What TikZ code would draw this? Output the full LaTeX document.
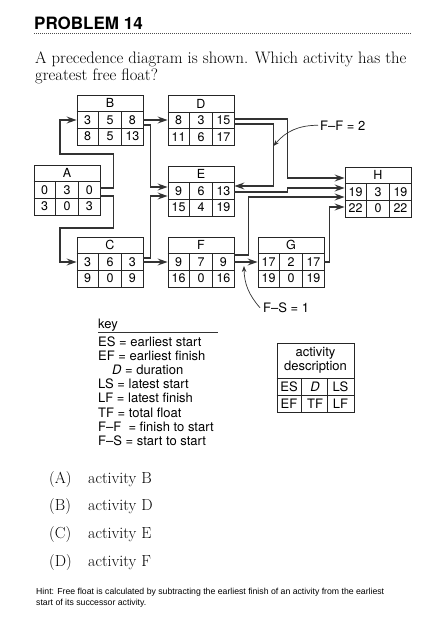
\documentclass[tikz,border=0pt]{standalone}
\usepackage{fontspec}
\setsansfont{TeX Gyre Heros}
\newfontfamily\hintfont{Liberation Sans}
\usetikzlibrary{arrows.meta,positioning,calc}

% activity box: name (also its title), centre, ES, D, LS, EF, TF, LF
\newcommand{\activity}[8]{%
  \node[actbox] (#1) at (#2) {};
  \draw[actline] ([yshift=-17pt]#1.north west) -- ([yshift=-17pt]#1.north east);
  \draw[actline] ([yshift=-33.5pt]#1.north west) -- ([yshift=-33.5pt]#1.north east);
  \draw[actline] ([yshift=-17pt,xshift=22pt]#1.north west) -- ([xshift=22pt]#1.south west);
  \draw[actline] ([yshift=-17pt,xshift=-22pt]#1.north east) -- ([xshift=-22pt]#1.south east);
  \node[cell] (#1-t)  at ([yshift=-8.5pt]#1.north) {#1};
  \node[cell] (#1-es) at ([yshift=-25.25pt,xshift=11pt]#1.north west) {#3};
  \node[cell] (#1-d)  at ([yshift=-25.25pt]#1.north) {#4};
  \node[cell] (#1-ls) at ([yshift=-25.25pt,xshift=-11pt]#1.north east) {#5};
  \node[cell] (#1-ef) at ([yshift=-41.75pt,xshift=11pt]#1.north west) {#6};
  \node[cell] (#1-tf) at ([yshift=-41.75pt]#1.north) {#7};
  \node[cell] (#1-lf) at ([yshift=-41.75pt,xshift=-11pt]#1.north east) {#8};
}

\begin{document}
\begin{tikzpicture}[x=1pt,y=-1pt,
  >={Stealth[length=10pt,width=7pt,inset=3.5pt]},
  actbox/.style={rectangle,draw=black!85,line width=0.9pt,minimum width=66pt,
                 minimum height=50pt,inner sep=0pt},
  actline/.style={draw=black!85,line width=0.9pt},
  cell/.style={inner sep=0pt,font=\sffamily\fontsize{12.5}{12.5}\selectfont},
  link/.style={->,line width=1.1pt,draw=black!80},
  note/.style={-{Stealth[length=6pt,width=4.5pt]},line width=0.7pt,draw=black!80},
  keytext/.style={inner sep=0pt,font=\sffamily\fontsize{13}{14}\selectfont},
  choice/.style={inner sep=0pt,font=\fontsize{16}{16}\selectfont},
  hint/.style={inner sep=0pt,font=\hintfont\fontsize{8.7}{8.7}\selectfont},
]
  \useasboundingbox (0,0) rectangle (447,632);

  % heading and question
  \node[anchor=base west,inner sep=0pt,font=\sffamily\bfseries\fontsize{17}{17}\selectfont]
    (title) at (34,29.3) {PROBLEM 14};
  \draw[black!70,line width=0.7pt,dash pattern=on 0.7pt off 1.3pt]
    ([yshift=-4.3pt]title.base west) -- ++(377,0);
  \node[choice,anchor=base west,font=\fontsize{16.6}{16.6}\selectfont] (q1) at (35,63.5)
    {A precedence diagram is shown. Which activity has the};
  \node[choice,anchor=base west,font=\fontsize{16.6}{16.6}\selectfont] (q2) at (35,80.5)
    {greatest free float?};

  % activities
  \activity{A}{67,190}{0}{3}{0}{3}{0}{3}
  \activity{B}{110,120}{3}{5}{8}{8}{5}{13}
  \activity{C}{110,262}{3}{6}{3}{9}{0}{9}
  \activity{D}{201,120.5}{8}{3}{15}{11}{6}{17}
  \activity{E}{201,191}{9}{6}{13}{15}{4}{19}
  \activity{F}{201,262}{9}{7}{9}{16}{0}{16}
  \activity{G}{291,262}{17}{2}{17}{19}{0}{19}
  \activity{H}{378,192}{19}{3}{19}{22}{0}{22}

  % links
  \draw[link] ([yshift=2pt]A.east) -- ++(13,0) |- (60,154) |- (B.west);
  \draw[link] ([yshift=-6pt]A.east) -- ++(13,0) |- (60,228) |- (C.west);
  \draw[link] (B.east) -- (B.east -| D.west);
  \draw[link] ([yshift=-5pt]B.east) -- ++(7,0) |- ([yshift=4pt]E.west);
  \draw[link] ([yshift=4pt]C.east) -- ++(7,0) |- ([yshift=-5pt]E.west);
  \draw[link] (C.east) -- (F.west);
  \draw[link] ([yshift=1.5pt]D.east) -- ++(53,0) |- ([yshift=14pt]H.west);
  \draw[link] ([yshift=-3.5pt]D.east) -- ++(39,0) |- ([yshift=5pt]E.east);
  \draw[link] ([yshift=-1pt]E.east) -- ++(53,0) |- ([yshift=4pt]H.west);
  \draw[link] (F.east) -- (G.west);
  \draw[link] ([yshift=7pt]F.east) -- ++(14,0) |- ([yshift=-5pt]H.west);
  \draw[link] (G.east) -- ++(5,0) |- ([yshift=-15pt]H.west);

  % lag notes
  \node[keytext,anchor=base west] (ff) at (320,130) {F–F = 2};
  \coordinate (ffpt) at (273.5,146);
  \draw[note] ([xshift=-2pt]ff.west) to[bend right=25] (ffpt);
  \node[keytext,anchor=base west] (fs) at (263,312.5) {F–S = 1};
  \coordinate (fspt) at (244,266);
  \draw[note] ([xshift=-3pt]fs.west) to[bend left=20] (fspt);

  % key
  \node[keytext,anchor=base west] (keyhead) at (98,328) {key};
  \draw[black!80,line width=0.8pt] ([yshift=-4pt]keyhead.base west) -- ++(120,0);
  \foreach \entry/\dx [count=\n] in {
      ES = earliest start/0,
      EF = earliest finish/0,
      \textit{D} = duration/14,
      LS = latest start/0,
      LF = latest finish/0,
      TF = total float/0,
      F–F \ = finish to start/0,
      F–S = start to start/0}
    \node[keytext,anchor=base west] (key\n) at ({98+\dx},{346+14.2*(\n-1)}) {\entry};

  % legend box
  \node[actbox,minimum width=77pt,minimum height=69pt] (legend) at (315.5,377.5) {};
  \draw[actline] ([yshift=-36pt]legend.north west) -- ([yshift=-36pt]legend.north east);
  \draw[actline] ([yshift=-52.5pt]legend.north west) -- ([yshift=-52.5pt]legend.north east);
  \draw[actline] ([yshift=-36pt,xshift=25pt]legend.north west) -- ([xshift=25pt]legend.south west);
  \draw[actline] ([yshift=-36pt,xshift=51pt]legend.north west) -- ([xshift=51pt]legend.south west);
  \node[keytext,align=center] (legend-t) at ([yshift=-18pt]legend.north) {activity\\description};
  \node[keytext] (legend-es) at ([yshift=-44.25pt,xshift=12.5pt]legend.north west) {ES};
  \node[keytext] (legend-d)  at ([yshift=-44.25pt,xshift=38.5pt]legend.north west) {\textit{D}};
  \node[keytext] (legend-ls) at ([yshift=-44.25pt,xshift=64pt]legend.north west) {LS};
  \node[keytext] (legend-ef) at ([yshift=-60.75pt,xshift=12.5pt]legend.north west) {EF};
  \node[keytext] (legend-tf) at ([yshift=-60.75pt,xshift=38.5pt]legend.north west) {TF};
  \node[keytext] (legend-lf) at ([yshift=-60.75pt,xshift=64pt]legend.north west) {LF};

  % answers
  \foreach \lab/\act [count=\n] in {A/B,B/D,C/E,D/F}{
    \node[choice,anchor=base west] (opt\n) at (49,{483+27.8*(\n-1)}) {(\lab)};
    \node[choice,anchor=base west] (ans\n) at (88,{483+27.8*(\n-1)}) {activity \act};
  }

  % hint
  \node[hint,anchor=base west] (hint1) at (36,594)
    {Hint: Free float is calculated by subtracting the earliest finish of an activity from the earliest};
  \node[hint,anchor=base west] (hint2) at (36,605.5) {start of its successor activity.};
\end{tikzpicture}
\end{document}
